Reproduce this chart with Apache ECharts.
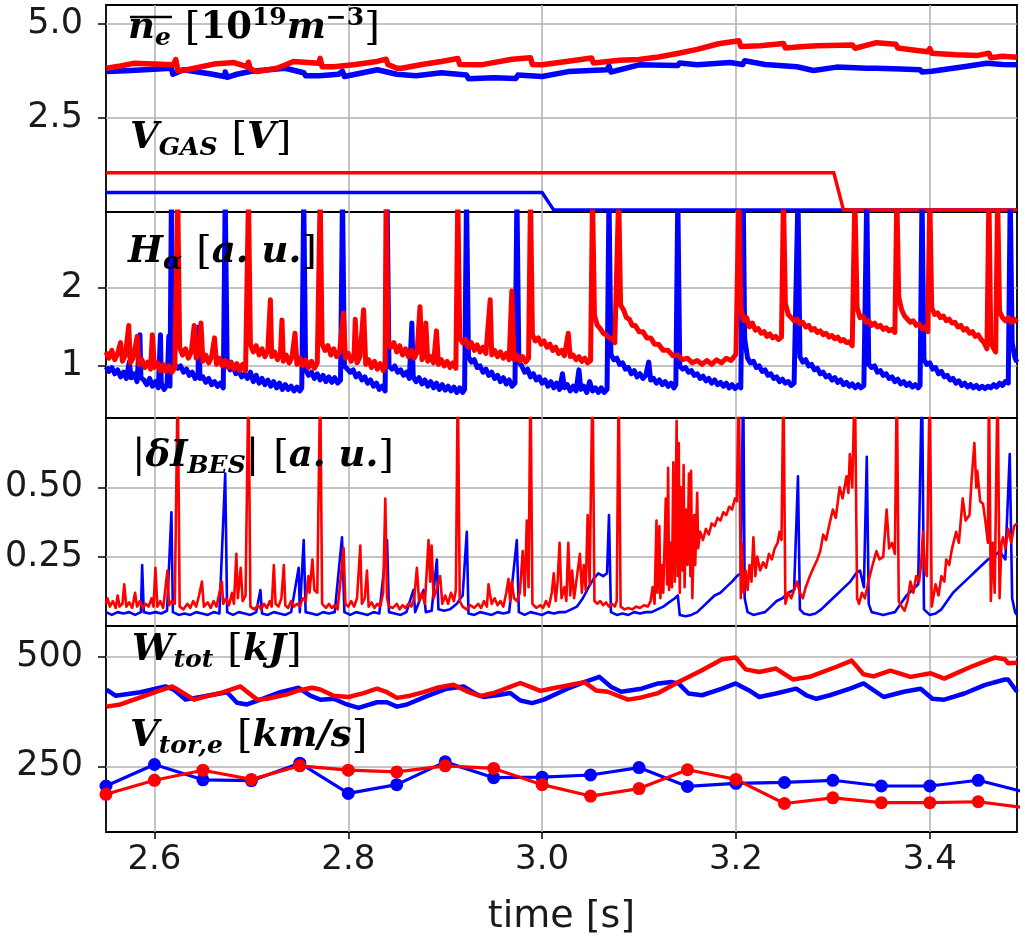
<!DOCTYPE html>
<html><head><meta charset="utf-8">
<script src="https://cdn.jsdelivr.net/npm/echarts@6/dist/echarts.min.js"></script>
<style>html,body{margin:0;padding:0;background:#fff}#c{width:1025px;height:938px}</style>
</head><body><div id="c"></div>
<script>
// ---------- data (time [s], value) ----------
const xTicks = [2.6, 2.8, 3.0, 3.2, 3.4];
const yTicksNe = [2.5, 5.0];
const yTicksHa = [1, 2];
const yTicksBes = [0.25, 0.5];
const yTicksW = [250, 500];

const neRed = [[2.5505,3.82],[2.565,3.88],[2.5784,3.95],[2.600,3.93],[2.6196,3.91],[2.622,4.05],[2.624,3.76],[2.6337,3.78],[2.6612,3.93],[2.6818,3.97],[2.6955,3.86],[2.697,3.98],[2.699,3.80],[2.7059,3.73],[2.7265,3.82],[2.7436,4.0],[2.7694,3.95],[2.771,4.08],[2.773,3.86],[2.7849,3.86],[2.8055,3.91],[2.8296,4.0],[2.839,4.06],[2.841,3.92],[2.8502,3.82],[2.855,3.82],[2.876,3.92],[2.896,4.0],[2.913,4.08],[2.915,3.92],[2.937,3.91],[2.969,4.06],[2.988,4.10],[2.990,3.92],[3.0,3.91],[3.025,4.0],[3.051,4.09],[3.053,3.96],[3.08,4.03],[3.1,4.05],[3.12,4.12],[3.141,4.22],[3.16,4.32],[3.182,4.47],[3.203,4.55],[3.205,4.40],[3.225,4.42],[3.249,4.48],[3.251,4.36],[3.27,4.40],[3.284,4.42],[3.32,4.44],[3.323,4.35],[3.345,4.5],[3.365,4.46],[3.367,4.36],[3.385,4.30],[3.398,4.26],[3.400,4.34],[3.402,4.22],[3.427,4.18],[3.45,4.16],[3.461,4.22],[3.463,4.10],[3.475,4.14],[3.49,4.11]];
const neBlue = [[2.5505,3.73],[2.57,3.75],[2.59,3.78],[2.6175,3.82],[2.619,3.66],[2.63,3.78],[2.645,3.72],[2.66,3.66],[2.672,3.60],[2.673,3.72],[2.675,3.58],[2.685,3.66],[2.70,3.74],[2.735,3.82],[2.754,3.70],[2.756,3.62],[2.77,3.62],[2.79,3.66],[2.794,3.74],[2.796,3.60],[2.83,3.78],[2.85,3.66],[2.87,3.62],[2.896,3.70],[2.922,3.64],[2.924,3.54],[2.95,3.57],[2.973,3.55],[2.975,3.64],[3.0,3.60],[3.027,3.73],[3.067,3.78],[3.069,3.88],[3.071,3.72],[3.1,3.91],[3.14,3.89],[3.142,3.96],[3.16,3.91],[3.194,3.97],[3.207,3.92],[3.209,4.02],[3.23,3.92],[3.263,3.86],[3.28,3.76],[3.304,3.85],[3.335,3.82],[3.345,3.82],[3.37,3.80],[3.39,3.78],[3.392,3.72],[3.402,3.74],[3.435,3.86],[3.459,3.95],[3.475,3.92],[3.49,3.91]];
const vgasRed = [[2.55,1.04],[3.301,1.04],[3.311,0.05],[3.49,0.05]];
const vgasBlue = [[2.55,0.52],[3.0,0.52],[3.012,0.05],[3.49,0.05]];

const haBlue = [[2.550,0.99],[2.553,0.93],[2.556,0.98],[2.559,0.90],[2.562,0.95],[2.565,0.86],[2.568,0.92],[2.571,0.84],[2.574,1.05],[2.576,0.85],[2.579,0.90],[2.582,0.80],[2.585,1.40],[2.586,0.85],[2.589,0.82],[2.592,0.76],[2.595,0.84],[2.598,0.74],[2.601,0.80],[2.604,0.72],[2.6062,1.40],[2.607,0.78],[2.610,0.70],[2.613,0.76],[2.6148,1.38],[2.616,0.74],[2.6175,3.2],[2.619,1.05],
[2.621,1.02],[2.624,0.97],[2.627,1.00],[2.630,0.92],[2.633,0.96],[2.636,0.88],[2.639,0.92],[2.642,0.84],[2.645,0.90],[2.6457,1.50],[2.647,0.84],[2.650,0.86],[2.653,0.79],[2.656,0.84],[2.659,0.76],[2.662,0.80],[2.665,0.74],[2.668,0.78],[2.671,0.72],[2.673,3.2],[2.675,1.05],
[2.678,0.95],[2.681,1.00],[2.684,0.90],[2.687,0.94],[2.690,0.86],[2.693,0.90],[2.696,0.84],[2.699,0.92],[2.702,0.80],[2.705,0.88],[2.708,0.78],[2.711,0.84],[2.714,0.76],[2.717,0.82],[2.720,0.74],[2.723,0.80],[2.726,0.72],[2.729,0.78],[2.732,0.70],[2.735,0.76],[2.738,0.70],[2.741,0.74],[2.744,0.68],[2.747,0.73],[2.750,0.68],[2.752,0.72],[2.754,3.2],[2.756,0.95],
[2.759,0.88],[2.762,0.92],[2.765,0.84],[2.768,0.90],[2.771,0.82],[2.774,0.88],[2.777,0.80],[2.780,0.86],[2.783,0.79],[2.786,0.85],[2.789,0.78],[2.792,0.82],[2.794,3.2],[2.796,1.0],
[2.799,0.96],[2.802,0.92],[2.805,0.95],[2.808,0.86],[2.811,0.90],[2.814,0.82],[2.817,0.86],[2.820,0.78],[2.823,0.82],[2.826,0.74],[2.829,0.78],[2.832,0.70],[2.835,0.74],[2.838,0.68],[2.840,3.2],[2.842,1.0],
[2.845,0.96],[2.848,1.0],[2.851,0.92],[2.854,0.95],[2.857,0.88],[2.860,0.92],[2.863,0.84],[2.8656,1.55],[2.867,0.86],[2.870,0.80],[2.873,0.85],[2.876,0.77],[2.879,0.82],[2.882,0.74],[2.885,0.80],[2.888,0.72],[2.891,0.78],[2.894,0.70],[2.897,0.76],[2.900,0.69],[2.903,0.74],[2.906,0.68],[2.909,0.73],[2.912,0.66],[2.915,0.72],[2.918,0.66],[2.920,0.70],[2.922,3.2],[2.924,1.12],
[2.927,1.05],[2.930,1.08],[2.933,0.98],[2.936,1.0],[2.939,0.92],[2.942,0.96],[2.945,0.88],[2.948,0.92],[2.951,0.84],[2.954,0.88],[2.957,0.80],[2.960,0.85],[2.963,0.77],[2.966,0.82],[2.969,0.74],[2.972,0.78],[2.974,3.2],[2.976,1.05],
[2.979,1.0],[2.982,0.92],[2.985,0.96],[2.988,0.86],[2.991,0.90],[2.994,0.82],[2.997,0.86],[3.000,0.78],[3.003,0.82],[3.006,0.74],[3.009,0.80],[3.012,0.72],[3.015,0.78],[3.018,0.70],[3.021,0.90],[3.023,0.72],[3.026,0.76],[3.029,0.68],[3.032,0.74],[3.035,0.68],[3.038,0.95],[3.040,0.70],[3.043,0.74],[3.046,0.66],[3.049,0.80],[3.052,0.68],[3.055,0.72],[3.058,0.66],[3.061,0.72],[3.064,0.66],[3.067,0.70],[3.069,3.2],[3.071,1.15],
[3.074,1.08],[3.077,1.10],[3.080,1.02],[3.083,1.04],[3.086,0.96],[3.089,0.98],[3.092,0.90],[3.095,0.94],[3.098,0.86],[3.101,0.90],[3.104,0.84],[3.107,0.88],[3.110,1.05],[3.112,0.82],[3.115,0.84],[3.118,0.78],[3.121,0.82],[3.124,0.76],[3.127,0.80],[3.130,0.74],[3.133,0.78],[3.136,0.72],[3.138,0.76],[3.140,3.2],[3.142,1.0],
[3.145,0.96],[3.148,0.98],[3.151,0.92],[3.154,0.94],[3.157,0.88],[3.160,0.90],[3.163,0.84],[3.166,0.87],[3.169,0.81],[3.172,0.84],[3.175,0.78],[3.178,0.82],[3.181,0.76],[3.184,0.79],[3.187,0.74],[3.190,0.78],[3.193,0.72],[3.196,0.76],[3.199,0.71],[3.202,0.75],[3.205,0.72],[3.2075,3.2],[3.209,1.35],
[3.212,1.10],[3.215,1.04],[3.218,1.06],[3.221,0.98],[3.224,1.0],[3.227,0.93],[3.230,0.95],[3.233,0.88],[3.236,0.90],[3.239,0.84],[3.242,0.86],[3.245,0.80],[3.248,0.83],[3.251,0.78],[3.254,0.80],[3.257,0.75],[3.260,0.78],[3.262,0.76],[3.264,3.2],[3.266,1.12],
[3.269,1.05],[3.272,1.08],[3.275,1.0],[3.278,1.02],[3.281,0.95],[3.284,0.97],[3.287,0.90],[3.290,0.92],[3.293,0.86],[3.296,0.88],[3.299,0.82],[3.302,0.85],[3.305,0.79],[3.308,0.82],[3.311,0.76],[3.314,0.79],[3.317,0.74],[3.320,0.77],[3.323,0.72],[3.326,0.76],[3.329,0.72],[3.332,0.75],[3.335,3.2],[3.337,1.02],
[3.340,0.98],[3.343,1.0],[3.346,0.92],[3.349,0.94],[3.352,0.88],[3.355,0.90],[3.358,0.84],[3.361,0.86],[3.364,0.80],[3.367,0.83],[3.370,0.77],[3.373,0.80],[3.376,0.75],[3.379,0.78],[3.382,0.73],[3.385,0.76],[3.388,0.72],[3.390,0.75],[3.392,3.2],[3.394,1.08],
[3.397,1.02],[3.400,1.04],[3.403,0.96],[3.406,0.98],[3.409,0.90],[3.412,0.93],[3.415,0.86],[3.418,0.88],[3.421,0.82],[3.424,0.84],[3.427,0.78],[3.430,0.81],[3.433,0.75],[3.436,0.78],[3.439,0.73],[3.442,0.76],[3.445,0.72],[3.448,0.75],[3.451,0.71],[3.454,0.74],[3.457,0.71],[3.460,0.74],[3.463,0.72],[3.466,0.76],[3.469,0.73],[3.472,0.78],[3.475,0.75],[3.478,0.80],[3.481,0.78],[3.483,3.2],[3.485,1.3],[3.488,1.1],[3.490,1.05]];

const haRed = [[2.550,1.18],[2.553,1.10],[2.556,1.20],[2.559,1.08],[2.562,1.16],[2.565,1.30],[2.567,1.06],[2.570,1.14],[2.5735,1.52],[2.575,1.04],[2.578,1.10],[2.5822,1.38],[2.584,1.02],[2.587,1.08],[2.590,0.98],[2.593,1.05],[2.596,0.96],[2.5978,1.40],[2.600,0.98],[2.603,1.04],[2.606,0.94],[2.609,1.02],[2.612,0.93],[2.615,1.00],[2.618,0.92],[2.621,0.98],[2.624,3.2],[2.626,1.24],
[2.629,1.14],[2.632,1.22],[2.635,1.10],[2.638,1.18],[2.641,1.52],[2.643,1.10],[2.646,1.16],[2.648,1.55],[2.650,1.06],[2.653,1.14],[2.656,1.04],[2.659,1.12],[2.662,1.36],[2.664,1.02],[2.667,1.10],[2.670,1.0],[2.673,1.07],[2.676,0.98],[2.679,1.05],[2.682,0.96],[2.685,1.03],[2.688,0.94],[2.691,1.02],[2.694,0.94],[2.697,3.2],[2.699,1.28],
[2.702,1.18],[2.705,1.26],[2.708,1.14],[2.711,1.22],[2.714,1.12],[2.717,1.2],[2.7196,1.85],[2.721,1.12],[2.724,1.18],[2.727,1.08],[2.730,1.16],[2.7316,1.59],[2.733,1.06],[2.736,1.14],[2.739,1.04],[2.742,1.12],[2.745,1.42],[2.747,1.02],[2.750,1.10],[2.753,1.0],[2.756,1.08],[2.759,0.98],[2.762,1.06],[2.765,0.97],[2.768,1.04],[2.771,3.2],[2.773,1.28],
[2.776,1.20],[2.779,1.26],[2.782,1.14],[2.785,1.22],[2.788,1.12],[2.791,1.18],[2.795,1.68],[2.797,1.10],[2.800,1.16],[2.803,1.06],[2.806,1.14],[2.8072,1.60],[2.809,1.04],[2.812,1.12],[2.8158,1.72],[2.818,1.02],[2.821,1.08],[2.824,0.98],[2.827,1.06],[2.830,0.96],[2.833,1.03],[2.836,0.94],[2.838,1.0],[2.839,3.2],[2.841,1.32],
[2.844,1.24],[2.847,1.30],[2.850,1.18],[2.853,1.26],[2.856,1.14],[2.859,1.22],[2.862,1.12],[2.865,1.20],[2.868,1.10],[2.871,1.18],[2.874,1.76],[2.876,1.08],[2.879,1.14],[2.880,1.55],[2.882,1.06],[2.885,1.12],[2.888,1.04],[2.891,1.45],[2.893,1.02],[2.896,1.08],[2.899,1.0],[2.902,1.06],[2.905,0.98],[2.908,1.04],[2.911,0.97],[2.913,3.2],[2.915,1.36],
[2.918,1.30],[2.921,1.34],[2.924,1.24],[2.927,1.30],[2.930,1.20],[2.933,1.27],[2.936,1.18],[2.939,1.24],[2.942,1.16],[2.9464,1.85],[2.948,1.14],[2.951,1.20],[2.954,1.12],[2.957,1.18],[2.960,1.10],[2.963,1.16],[2.966,1.08],[2.9687,1.96],[2.971,1.08],[2.974,1.14],[2.977,1.06],[2.980,1.12],[2.983,1.05],[2.986,1.10],[2.988,3.2],[2.990,1.40],
[2.993,1.32],[2.996,1.36],[2.999,1.28],[3.002,1.32],[3.005,1.24],[3.008,1.28],[3.011,1.20],[3.014,1.24],[3.017,1.16],[3.020,1.20],[3.023,1.13],[3.027,1.42],[3.029,1.12],[3.032,1.14],[3.035,1.08],[3.038,1.12],[3.041,1.06],[3.044,1.10],[3.047,1.04],[3.050,1.07],[3.052,3.2],[3.054,1.65],
[3.057,1.52],[3.060,1.48],[3.063,1.42],[3.066,1.40],[3.069,1.36],[3.072,1.36],[3.075,1.30],[3.077,1.32],[3.079,3.2],[3.081,1.78],
[3.084,1.72],[3.087,1.62],[3.090,1.60],[3.093,1.52],[3.096,1.52],[3.100,1.44],[3.104,1.44],[3.108,1.36],[3.112,1.36],[3.116,1.28],[3.120,1.28],[3.125,1.20],[3.130,1.20],[3.135,1.13],[3.140,1.14],[3.145,1.08],[3.150,1.10],[3.155,1.04],[3.160,1.07],[3.165,1.02],[3.170,1.07],[3.175,1.02],[3.180,1.08],[3.185,1.04],[3.190,1.10],[3.195,1.07],[3.200,1.15],[3.203,3.2],[3.205,1.75],
[3.208,1.58],[3.211,1.62],[3.214,1.50],[3.217,1.55],[3.220,1.46],[3.223,1.48],[3.226,1.42],[3.229,1.44],[3.232,1.38],[3.235,1.41],[3.238,1.36],[3.241,1.38],[3.244,1.34],[3.247,1.37],[3.249,3.2],[3.251,1.80],
[3.254,1.66],[3.257,1.62],[3.260,1.58],[3.263,1.60],[3.266,1.54],[3.269,1.56],[3.272,1.50],[3.275,1.52],[3.278,1.46],[3.281,1.48],[3.284,1.43],[3.287,1.45],[3.290,1.40],[3.293,1.42],[3.296,1.37],[3.299,1.39],[3.302,1.35],[3.305,1.37],[3.308,1.32],[3.311,1.34],[3.314,1.30],[3.317,1.31],[3.320,1.26],[3.3227,3.2],[3.325,1.75],
[3.328,1.62],[3.331,1.64],[3.334,1.56],[3.337,1.58],[3.340,1.52],[3.343,1.55],[3.346,1.50],[3.349,1.52],[3.352,1.47],[3.355,1.49],[3.358,1.45],[3.361,1.47],[3.364,1.43],[3.366,3.2],[3.368,1.88],
[3.371,1.72],[3.374,1.64],[3.377,1.60],[3.380,1.56],[3.383,1.58],[3.386,1.52],[3.389,1.54],[3.392,1.48],[3.395,1.50],[3.398,1.44],[3.400,3.2],[3.402,1.75],
[3.405,1.66],[3.408,1.68],[3.411,1.62],[3.414,1.64],[3.417,1.58],[3.420,1.60],[3.423,1.55],[3.426,1.56],[3.429,1.50],[3.432,1.52],[3.435,1.46],[3.438,1.48],[3.441,1.42],[3.444,1.44],[3.447,1.38],[3.450,1.40],[3.453,1.34],[3.456,1.30],[3.459,1.22],[3.461,3.2],[3.463,1.30],[3.466,1.22],[3.468,1.18],[3.470,3.2],[3.472,1.70],[3.475,1.62],[3.478,1.58],[3.481,1.62],[3.484,1.56],[3.487,1.60],[3.490,1.56]];

const besBlue = [[2.550,0.05],[2.556,0.04],[2.562,0.05],[2.568,0.045],[2.574,0.05],[2.580,0.04],[2.586,0.05],[2.5873,0.22],[2.589,0.05],[2.595,0.045],[2.601,0.05],[2.607,0.045],[2.613,0.055],[2.6175,0.41],[2.619,0.05],[2.625,0.04],[2.631,0.045],[2.637,0.04],[2.643,0.05],[2.649,0.045],[2.655,0.04],[2.661,0.05],[2.667,0.045],[2.673,0.55],[2.675,0.05],[2.681,0.04],[2.687,0.05],[2.693,0.045],[2.699,0.04],[2.705,0.05],[2.7093,0.13],[2.711,0.045],[2.717,0.04],[2.723,0.05],[2.729,0.045],[2.735,0.04],[2.741,0.05],[2.7488,0.21],[2.750,0.05],[2.754,0.31],[2.756,0.05],[2.762,0.045],[2.768,0.04],[2.774,0.05],[2.780,0.045],[2.786,0.05],[2.7935,0.32],[2.796,0.05],[2.802,0.04],[2.808,0.05],[2.814,0.045],[2.820,0.04],[2.826,0.05],[2.832,0.045],[2.840,0.31],[2.842,0.05],[2.848,0.045],[2.854,0.04],[2.860,0.05],[2.8673,0.13],[2.869,0.05],[2.8777,0.13],[2.880,0.05],[2.886,0.055],[2.8914,0.24],[2.893,0.06],[2.899,0.055],[2.905,0.06],[2.912,0.08],[2.918,0.11],[2.9223,0.34],[2.924,0.045],[2.930,0.04],[2.936,0.05],[2.942,0.045],[2.948,0.04],[2.954,0.05],[2.960,0.045],[2.966,0.05],[2.9739,0.31],[2.976,0.05],
[2.982,0.04],[2.988,0.05],[2.994,0.045],[3.000,0.04],[3.006,0.05],[3.012,0.045],[3.018,0.05],[3.024,0.05],[3.030,0.06],[3.036,0.07],[3.042,0.10],[3.048,0.14],[3.053,0.17],[3.058,0.19],[3.063,0.18],[3.067,0.19],[3.069,0.40],[3.071,0.05],[3.077,0.04],[3.083,0.045],[3.089,0.04],[3.095,0.05],[3.101,0.045],[3.107,0.05],[3.113,0.05],[3.119,0.06],[3.125,0.07],[3.131,0.085],[3.137,0.10],[3.140,0.11],[3.142,0.04],[3.148,0.035],[3.154,0.04],[3.160,0.05],[3.166,0.07],[3.172,0.09],[3.178,0.11],[3.184,0.12],[3.190,0.14],[3.196,0.16],[3.201,0.18],[3.205,0.19],[3.2075,0.9],[3.209,0.10],[3.212,0.05],[3.218,0.04],[3.224,0.045],[3.230,0.05],[3.236,0.07],[3.242,0.09],[3.248,0.10],[3.254,0.12],[3.260,0.13],[3.264,0.54],[3.266,0.06],[3.270,0.045],[3.276,0.04],[3.282,0.045],[3.288,0.06],[3.294,0.08],[3.300,0.10],[3.306,0.12],[3.312,0.14],[3.318,0.16],[3.324,0.19],[3.328,0.20],[3.332,0.14],[3.335,0.61],[3.337,0.08],[3.340,0.05],[3.346,0.045],[3.352,0.04],[3.358,0.045],[3.364,0.05],[3.370,0.08],[3.376,0.11],[3.382,0.13],[3.388,0.15],[3.392,0.9],[3.394,0.06],[3.400,0.04],[3.406,0.045],[3.412,0.06],[3.418,0.09],[3.424,0.12],[3.430,0.14],[3.436,0.16],[3.442,0.18],[3.448,0.20],[3.454,0.22],[3.460,0.24],[3.466,0.25],[3.472,0.27],[3.478,0.24],[3.4825,0.62],[3.485,0.10],[3.488,0.05],[3.490,0.04]];

const besRed = [[2.550,0.08],[2.5515,0.10],[2.554,0.07],[2.557,0.09],[2.560,0.065],[2.562,0.11],[2.564,0.07],[2.567,0.08],[2.5688,0.15],[2.571,0.07],[2.574,0.085],[2.577,0.065],[2.580,0.12],[2.582,0.07],[2.585,0.09],[2.588,0.065],[2.591,0.08],[2.594,0.07],[2.597,0.10],[2.599,0.07],[2.601,0.21],[2.603,0.07],[2.606,0.09],[2.609,0.065],[2.6134,0.20],[2.615,0.075],[2.618,0.09],[2.621,0.08],[2.624,0.9],[2.626,0.07],
[2.630,0.06],[2.634,0.08],[2.637,0.065],[2.640,0.09],[2.643,0.07],[2.646,0.11],[2.649,0.16],[2.651,0.07],[2.655,0.085],[2.658,0.065],[2.661,0.09],[2.664,0.07],[2.6695,0.16],[2.671,0.08],[2.674,0.10],[2.677,0.075],[2.680,0.12],[2.682,0.08],[2.6845,0.26],[2.686,0.10],[2.689,0.21],[2.691,0.09],[2.694,0.11],[2.697,0.9],[2.699,0.07],
[2.703,0.06],[2.707,0.075],[2.710,0.06],[2.713,0.08],[2.716,0.065],[2.719,0.09],[2.721,0.07],[2.7232,0.22],[2.725,0.08],[2.728,0.07],[2.731,0.10],[2.7335,0.22],[2.735,0.075],[2.738,0.065],[2.741,0.09],[2.744,0.07],[2.747,0.08],[2.750,0.07],[2.753,0.10],[2.756,0.09],[2.7588,0.18],[2.760,0.12],[2.763,0.24],[2.765,0.13],[2.768,0.12],[2.771,0.9],[2.773,0.08],
[2.777,0.065],[2.780,0.08],[2.783,0.065],[2.786,0.075],[2.789,0.06],[2.7952,0.28],[2.797,0.08],[2.800,0.07],[2.803,0.09],[2.806,0.07],[2.809,0.10],[2.8124,0.29],[2.814,0.08],[2.817,0.10],[2.8193,0.20],[2.821,0.07],[2.824,0.085],[2.827,0.065],[2.830,0.08],[2.833,0.07],[2.836,0.12],[2.8382,0.46],[2.840,0.10],[2.842,0.07],
[2.846,0.065],[2.850,0.08],[2.853,0.06],[2.856,0.075],[2.859,0.065],[2.862,0.08],[2.865,0.07],[2.868,0.10],[2.8708,0.21],[2.873,0.09],[2.876,0.12],[2.879,0.08],[2.8828,0.31],[2.8845,0.16],[2.886,0.29],[2.888,0.10],[2.891,0.13],[2.8948,0.18],[2.897,0.08],[2.900,0.11],[2.903,0.08],[2.906,0.12],[2.909,0.09],[2.911,0.13],[2.913,0.9],[2.915,0.09],
[2.918,0.07],[2.922,0.06],[2.926,0.075],[2.930,0.065],[2.934,0.08],[2.937,0.065],[2.940,0.09],[2.943,0.07],[2.9447,0.15],[2.946,0.12],[2.948,0.08],[2.951,0.10],[2.954,0.075],[2.957,0.09],[2.960,0.07],[2.963,0.12],[2.9653,0.17],[2.967,0.09],[2.9687,0.16],[2.971,0.10],[2.974,0.09],[2.977,0.12],[2.980,0.27],[2.982,0.11],[2.9842,0.38],[2.986,0.14],[2.988,0.9],[2.990,0.08],
[2.994,0.065],[2.998,0.075],[3.001,0.065],[3.004,0.09],[3.007,0.07],[3.010,0.12],[3.012,0.19],[3.014,0.09],[3.016,0.16],[3.018,0.30],[3.020,0.10],[3.023,0.14],[3.025,0.09],[3.027,0.30],[3.029,0.11],[3.031,0.20],[3.033,0.10],[3.036,0.18],[3.039,0.26],[3.041,0.12],[3.043,0.22],[3.045,0.13],[3.047,0.40],[3.049,0.15],[3.052,0.9],[3.054,0.09],
[3.057,0.08],[3.060,0.09],[3.063,0.075],[3.066,0.085],[3.069,0.07],[3.072,0.08],[3.075,0.07],[3.077,0.09],[3.079,0.9],[3.081,0.07],
[3.085,0.06],[3.089,0.065],[3.093,0.06],[3.097,0.07],[3.101,0.065],[3.105,0.075],[3.109,0.07],[3.112,0.09],[3.114,0.14],[3.116,0.08],[3.118,0.38],[3.119,0.12],[3.121,0.36],[3.122,0.10],[3.124,0.22],[3.125,0.12],[3.1276,0.46],[3.129,0.15],[3.130,0.57],[3.131,0.13],[3.133,0.30],[3.134,0.14],[3.1354,0.59],[3.137,0.16],[3.1388,0.74],[3.140,0.18],[3.141,0.66],[3.142,0.12],[3.1435,0.50],[3.145,0.20],[3.146,0.58],[3.147,0.14],[3.1485,0.42],[3.150,0.22],[3.1515,0.55],[3.153,0.18],[3.1537,0.56],[3.155,0.10],[3.157,0.40],[3.158,0.22],[3.160,0.48],[3.161,0.28],[3.163,0.34],[3.166,0.31],[3.169,0.35],[3.172,0.33],[3.175,0.37],[3.178,0.36],[3.181,0.39],[3.184,0.38],[3.187,0.41],[3.190,0.40],[3.193,0.43],[3.196,0.42],[3.199,0.46],[3.201,0.45],[3.203,0.9],[3.205,0.10],
[3.206,0.30],[3.208,0.12],[3.210,0.20],[3.212,0.13],[3.214,0.22],[3.216,0.16],[3.218,0.32],[3.220,0.18],[3.222,0.25],[3.225,0.20],[3.228,0.23],[3.231,0.21],[3.234,0.26],[3.237,0.24],[3.240,0.28],[3.243,0.30],[3.245,0.34],[3.247,0.31],[3.249,0.9],[3.251,0.08],
[3.254,0.12],[3.257,0.10],[3.260,0.13],[3.263,0.16],[3.266,0.12],[3.269,0.10],[3.272,0.14],[3.2763,0.18],[3.280,0.21],[3.284,0.24],[3.287,0.27],[3.290,0.33],[3.293,0.31],[3.296,0.36],[3.300,0.42],[3.303,0.39],[3.307,0.50],[3.310,0.46],[3.3141,0.54],[3.316,0.48],[3.3175,0.62],[3.320,0.50],[3.3227,0.9],[3.325,0.10],
[3.327,0.08],[3.330,0.12],[3.333,0.10],[3.336,0.15],[3.338,0.18],[3.341,0.22],[3.345,0.27],[3.348,0.24],[3.352,0.25],[3.3555,0.42],[3.358,0.28],[3.361,0.30],[3.364,0.26],[3.366,0.9],[3.368,0.09],
[3.371,0.07],[3.374,0.055],[3.377,0.09],[3.380,0.16],[3.383,0.12],[3.386,0.18],[3.389,0.16],[3.391,0.22],[3.393,0.34],[3.395,0.20],[3.397,0.18],[3.400,0.9],[3.402,0.07],
[3.4034,0.065],[3.406,0.15],[3.409,0.11],[3.412,0.18],[3.415,0.16],[3.417,0.24],[3.420,0.22],[3.423,0.28],[3.4272,0.34],[3.430,0.30],[3.434,0.46],[3.437,0.38],[3.441,0.40],[3.443,0.52],[3.446,0.66],[3.448,0.50],[3.449,0.56],[3.452,0.45],[3.455,0.44],[3.458,0.36],[3.460,0.30],[3.461,0.9],[3.463,0.09],[3.465,0.30],[3.467,0.12],[3.470,0.9],[3.472,0.10],[3.474,0.30],[3.4756,0.32],[3.478,0.28],[3.481,0.35],[3.484,0.30],[3.487,0.36],[3.490,0.37]];

const wBlue = [[2.5505,425],[2.5598,411],[2.5856,419],[2.6113,432],[2.6199,425],[2.632,402],[2.6543,411],[2.6749,419],[2.6852,395],[2.6955,391],[2.7093,402],[2.7299,419],[2.7488,429],[2.7608,411],[2.7711,402],[2.7849,404],[2.7986,391],[2.8106,383],[2.8296,396],[2.8399,396],[2.8502,386],[2.8605,391],[2.8811,410],[2.9017,427],[2.9189,432],[2.9326,414],[2.9395,408],[2.9567,413],[2.9671,417],[2.9775,400],[2.9897,394],[3.0018,402],[3.0261,427],[3.0435,442],[3.0591,454],[3.0713,431],[3.0817,420],[3.1025,427],[3.1198,439],[3.1337,442],[3.1407,439],[3.1511,416],[3.165,412],[3.1858,427],[3.1997,439],[3.2136,423],[3.224,408],[3.2413,416],[3.2622,427],[3.2726,412],[3.283,404],[3.2969,412],[3.3177,427],[3.3316,439],[3.3524,408],[3.3732,420],[3.3906,427],[3.4027,404],[3.4149,402],[3.4357,416],[3.4565,435],[3.4774,448],[3.4808,448],[3.49,420]];
const wRed = [[2.5505,386],[2.5649,391],[2.5856,407],[2.6028,421],[2.6182,432],[2.6237,425],[2.6409,402],[2.6543,410],[2.668,417],[2.6887,432],[2.7059,402],[2.7162,404],[2.7368,414],[2.7488,423],[2.7626,429],[2.7711,425],[2.7849,411],[2.8003,408],[2.8158,417],[2.8296,427],[2.8399,419],[2.8502,406],[2.8639,411],[2.8777,419],[2.8914,429],[2.9086,436],[2.9223,421],[2.9361,410],[2.9498,417],[2.967,431],[2.9775,440],[2.9984,422],[3.0088,427],[3.0435,442],[3.0556,423],[3.0678,420],[3.0886,402],[3.1025,407],[3.1198,417],[3.1407,442],[3.165,469],[3.1858,494],[3.1997,498],[3.2101,471],[3.224,465],[3.2413,473],[3.2587,448],[3.276,454],[3.3038,477],[3.3194,491],[3.3316,460],[3.342,455],[3.3593,468],[3.3802,454],[3.401,462],[3.4149,450],[3.4426,477],[3.4669,498],[3.4774,494],[3.4808,485],[3.49,486]];

const vtorTime = [2.55,2.60,2.65,2.70,2.75,2.80,2.85,2.90,2.95,3.00,3.05,3.10,3.15,3.20,3.25,3.30,3.35,3.40,3.45,3.50];
const vtorBlue = [205,254,219,217,257,188,208,260,224,225,230,247,204,211,213,218,205,205,218,190];
const vtorRed  = [186,218,241,220,251,241,237,251,245,208,182,199,242,220,165,178,167,167,169,155];

// ---------- chart ----------
const RED = '#ff0000', BLUE = '#0000ff';
const GRIDC = '#b0b0b0';
const TICKFONT = {fontFamily:'DejaVu Sans', fontSize:35, color:'#1a1a1a'};
const panels = [
  {top:5, height:207, min:0, max:5.5, ticks:yTicksNe, fmt:v=>v.toFixed(1)},
  {top:212, height:206, min:0.333, max:2.974, ticks:yTicksHa, fmt:v=>String(v)},
  {top:418, height:208, min:0, max:0.75, ticks:yTicksBes, fmt:v=>v.toFixed(2)},
  {top:626, height:206, min:100, max:570, ticks:yTicksW, fmt:v=>String(v)}
];
const grid = panels.map(p=>({left:106, right:8, top:p.top, height:p.height, show:true, borderColor:'#000', borderWidth:1.8, backgroundColor:'rgba(0,0,0,0)'}));
const xAxis = panels.map((p,i)=>{
  const last = i===3;
  return {type:'value', gridIndex:i, min:2.55, max:3.49,
    axisLine:{show:false},
    axisTick:{show:last, customValues:xTicks, length:7, inside:false, lineStyle:{color:'#000', width:1.5}},
    axisLabel:{show:last, customValues:xTicks, margin:11, formatter:v=>v.toFixed(1), ...TICKFONT, fontSize:34},
    splitLine:{show:true, lineStyle:{color:GRIDC, width:1.5}},
    name: last ? 'time [s]' : '', nameLocation:'middle', nameGap:66,
    nameTextStyle:{...TICKFONT, fontSize:38}
  };
});
const yAxis = panels.map((p,i)=>({type:'value', gridIndex:i, min:p.min, max:p.max,
  axisLine:{show:false},
  axisTick:{show:true, customValues:p.ticks, length:8, inside:false, lineStyle:{color:'#000', width:1.5}},
  axisLabel:{show:true, customValues:p.ticks, margin:23, formatter:p.fmt, ...TICKFONT},
  splitLine:{show:true, lineStyle:{color:GRIDC, width:1.5}}
}));

function line(data, color, width, xi, extra){
  return Object.assign({type:'line', xAxisIndex:xi, yAxisIndex:xi, data:data, showSymbol:false, symbol:'none',
    lineStyle:{color:color, width:width, join:'round'}, itemStyle:{color:color}, silent:true, clip:true, animation:false}, extra||{});
}
const series = [
  line(neBlue, BLUE, 5.5, 0), line(neRed, RED, 5.5, 0),
  line(vgasBlue, BLUE, 3.5, 0), line(vgasRed, RED, 3.5, 0),
  line(haBlue, BLUE, 5, 1), line(haRed, RED, 5, 1),
  line(besBlue, BLUE, 2.6, 2), line(besRed, RED, 2.6, 2),
  line(wBlue, BLUE, 4.5, 3), line(wRed, RED, 4.5, 3),
  line(vtorTime.map((t,k)=>[t, vtorBlue[k]]), BLUE, 3.2, 3, {showSymbol:true, symbol:'circle', symbolSize:13}),
  line(vtorTime.map((t,k)=>[t, vtorRed[k]]), RED, 3.2, 3, {showSymbol:true, symbol:'circle', symbolSize:13})
];

const SERIF = 'DejaVu Serif';
const rich = {
  m:{fontFamily:SERIF, fontStyle:'italic', fontWeight:'bold', fontSize:37, color:'#000'},
  s:{fontFamily:SERIF, fontStyle:'italic', fontWeight:'bold', fontSize:25, color:'#000', padding:[20,0,0,0]},
  u:{fontFamily:SERIF, fontWeight:'bold', fontSize:25, color:'#000', padding:[0,0,20,0]},
  n:{fontFamily:SERIF, fontWeight:'bold', fontSize:37, color:'#000'},
  b:{fontFamily:SERIF, fontWeight:'normal', fontSize:40, color:'#000'},
  sp:{fontSize:20, width:14}
};
function lab(text, left, top){ return {text:text, left:left, top:top, padding:0, textStyle:{rich:rich}}; }
const title = [
  lab('{m|n}{s|e}{sp| }{b|[}{n|10}{u|19}{m|m}{u|−3}{b|]}', 128, 6),
  lab('{m|V}{s|GAS}{sp| }{b|[}{m|V}{b|]}', 130, 116),
  lab('{m|H}{s|α}{sp| }{b|[}{m|a. u.}{b|]}', 128, 230),
  lab('{b||}{m|δI}{s|BES}{b||}{sp| }{b|[}{m|a. u.}{b|]}', 132, 434),
  lab('{m|W}{s|tot}{sp| }{b|[}{m|kJ}{b|]}', 132, 628),
  lab('{m|V}{s|tor,e}{sp| }{b|[}{m|km/s}{b|]}', 130, 714)
];

const chart = echarts.init(document.getElementById('c'), null, {renderer:'canvas'});
chart.setOption({
  animation:false, backgroundColor:'#fff',
  title:title, grid:grid, xAxis:xAxis, yAxis:yAxis, series:series,
  graphic:[{type:'line', shape:{x1:130, y1:17, x2:172, y2:17}, style:{stroke:'#000', lineWidth:2.5}, z:100}]
});
</script></body></html>
